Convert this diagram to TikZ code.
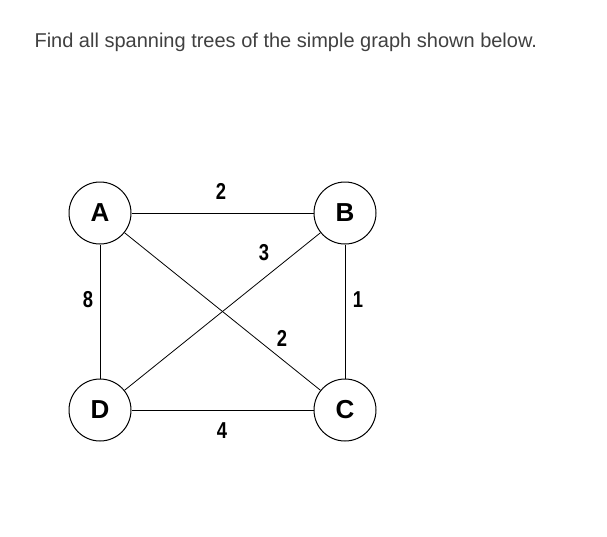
\documentclass[tikz,border=0pt]{standalone}
\usepackage{fontspec}
\setmainfont{Liberation Sans}
\begin{document}
\begin{tikzpicture}[x=1pt,y=-1pt,
  vtx/.style={circle,draw,line width=1pt,minimum size=62pt,inner sep=0pt,font=\fontsize{26}{28}\selectfont\bfseries},
  wt/.style={font=\fontsize{23}{25}\selectfont\bfseries,inner sep=1pt,xscale=0.8},
  edge/.style={draw,line width=0.8pt}]
\useasboundingbox (0,0) rectangle (607,536);
\node[anchor=west,text=black!75,font=\fontsize{20}{22}\selectfont] (title) at (31,42) {Find all spanning trees of the simple graph shown below.};
\node[vtx] (A) at (100,213) {A};
\node[vtx] (B) at (345,213) {B};
\node[vtx] (C) at (345,410) {C};
\node[vtx] (D) at (100,410) {D};
\draw[edge] (A) -- (B);
\draw[edge] (B) -- (C);
\draw[edge] (C) -- (D);
\draw[edge] (D) -- (A);
\draw[edge] (A) -- (C);
\draw[edge] (D) -- (B);
\node[wt] (w1) at (221,191) {2};
\node[wt] (w2) at (264,253) {3};
\node[wt] (w3) at (88,300) {8};
\node[wt] (w4) at (358,300) {1};
\node[wt] (w5) at (282,338) {2};
\node[wt] (w6) at (222,431) {4};
\end{tikzpicture}
\end{document}
